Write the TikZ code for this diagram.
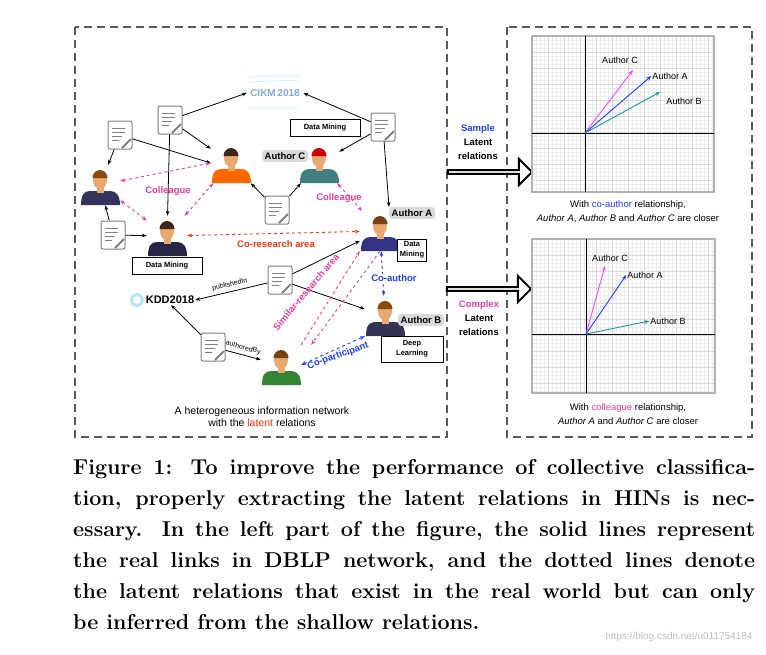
\documentclass[tikz,border=0pt]{standalone}
\usepackage{fontspec}
\newfontfamily\sans{Liberation Sans}
\usetikzlibrary{shapes.arrows,calc,arrows.meta}
\definecolor{pk}{RGB}{236,58,160}
\definecolor{rd}{RGB}{255,50,10}
\definecolor{bl}{RGB}{30,60,255}
\definecolor{tl}{RGB}{30,150,150}
\definecolor{mg}{RGB}{255,70,255}
\definecolor{skin}{RGB}{232,168,110}
\definecolor{hair}{RGB}{60,40,25}
\begin{document}
\begin{tikzpicture}[x=1pt,y=-1pt,font=\sans\fontsize{8}{9}\selectfont]
\tikzset{
 frame/.style={draw=gray!70!black,line width=2pt,dash pattern=on 8pt off 5pt},
 doc/.style={minimum width=24pt,minimum height=28pt,inner sep=0,draw=gray,line width=1pt,rounded corners=2pt,fill=white,
  path picture={
   \draw[gray,line width=.8pt] ([shift={(-8pt,7pt)}]path picture bounding box.center) -- ++(13pt,0)
     ([shift={(-8pt,3pt)}]path picture bounding box.center) -- ++(13pt,0)
     ([shift={(-8pt,-1pt)}]path picture bounding box.center) -- ++(10pt,0)
     ([shift={(-8pt,-5pt)}]path picture bounding box.center) -- ++(7pt,0);
   \draw[gray,line width=2pt] ([shift={(2pt,-13pt)}]path picture bounding box.center) -- ++(9pt,9pt);}},
 person/.style 2 args={minimum width=40pt,minimum height=40pt,inner sep=0,
  path picture={
   \fill[#1] ([shift={(-19pt,-20pt)}]path picture bounding box.center) .. controls +(0,10pt) and +(-6pt,0) .. ++(9pt,14pt) -- ++(20pt,0) .. controls +(6pt,0) and +(0,10pt) .. ++(10pt,-14pt) -- cycle;
   \fill[skin] ([shift={(-3.5pt,-8pt)}]path picture bounding box.center) rectangle ++(7pt,6pt);
   \fill[skin] ([yshift=5pt]path picture bounding box.center) ellipse (7pt and 9pt);
   \fill[#2] ([shift={(-7.5pt,7pt)}]path picture bounding box.center) arc (180:0:7.5pt and 8pt) -- cycle;}},
 tag/.style={fill=gray!30,rounded corners=3pt,font=\sans\bfseries\fontsize{9.5}{10}\selectfont,inner sep=2.5pt},
 box/.style={draw,line width=.6pt,fill=white,font=\sans\bfseries\fontsize{7.5}{10}\selectfont,inner sep=2.5pt,align=center},
 blk/.style={-{Stealth[length=5pt]},line width=.8pt},
 pkd/.style={{Stealth[length=5pt]}-{Stealth[length=5pt]},pk,dashed,line width=.9pt},
 lbl/.style={font=\sans\bfseries\fontsize{9.5}{11}\selectfont},
 grd/.style={draw=gray!60,line width=2pt},
 fine/.style={gray!15,line width=.3pt},
 coarse/.style={gray!30,line width=.4pt},
 big/.style={single arrow,draw,line width=2pt,fill=white,minimum height=84pt,minimum width=26pt,single arrow head extend=6pt,inner sep=0},
}
\useasboundingbox (0,0) rectangle (766,654);
\draw[frame] (75,27) rectangle (447,437);
\draw[frame] (507,27) rectangle (752,437);

% left network
\node[font=\sans\bfseries\fontsize{10}{11}\selectfont,text=cyan!50!blue!50] (cikm) at (275,93) {CIKM\,2018};
\draw[cyan!30,line width=.5pt] (248,76) -- (300,76) (248,82) -- (300,80) (248,108) -- (300,108);
\node[doc] (d1) at (170,120) {};
\node[doc] (d2) at (120,135) {};
\node[doc] (d3) at (383,127) {};
\node[doc] (dm) at (277,210) {};
\node[doc] (dl) at (113,235) {};
\node[doc] (dc) at (280,280) {};
\node[doc] (db) at (213,347) {};
\node[box,minimum width=70pt,minimum height=17pt] (bdm) at (325,128) {Data Mining};
\node[person={orange!80!red}{hair}] (po) at (231,163) {};
\node[person={gray!50!teal}{red!80!black}] (pc) at (319,163) {};
\node[tag] (tc) at (285,156) {Author C};
\node[person={blue!20!black!80}{hair!60!orange}] (pl) at (100,185) {};
\node[person={blue!15!black!85}{hair}] (ps) at (167,236) {};
\node[box,minimum width=70pt,minimum height=17pt] (bs) at (167,266) {Data Mining};
\node[person={blue!40!black!80}{hair!70!orange}] (pa) at (380,231) {};
\node[tag] (ta) at (412,213) {Author A};
\node[box] (ba) at (412,250) {Data\\Mining};
\node[person={blue!15!black!80}{hair!60!orange}] (pb) at (385,316) {};
\node[tag] (tb) at (421,320) {Author B};
\node[box,minimum width=62pt,minimum height=26pt] (bb) at (412,349) {Deep\\Learning};
\node[person={green!40!black!80}{hair!70!orange}] (pg) at (281,365) {};
\fill[cyan!30] (137,300) circle (7pt);
\fill[white] (137,300) circle (4pt);
\node[font=\sans\bfseries\fontsize{11}{12}\selectfont,inner sep=1pt] (kdd) at (166,300) {\hspace*{8pt}KDD2018};

\draw[blk] (d1) -- (cikm.west);
\draw[blk] (d3) -- (cikm.east);
\draw[blk] (d1) -- (po);
\draw[blk] (d1) -- (ps);
\draw[blk] (d2) -- (pl);
\draw[blk] (d2) -- (po.west);
\draw[blk] (d3) -- (pc);
\draw[blk] (d3) -- (ta.north west);
\draw[blk] (dm) -- (po);
\draw[blk] (dm) -- (pc);
\draw[blk] (dl) -- (pl);
\draw[blk] (dl) -- (ps);
\draw[blk] (dc) -- node[above,sloped,font=\sans\fontsize{7}{8}\selectfont]{publishedIn} (kdd.east);
\draw[blk] (dc) -- (pa);
\draw[blk] (dc) -- (pb);
\draw[blk] (db) -- (kdd);
\draw[blk] (db) -- node[above,sloped,pos=.45,font=\sans\fontsize{7}{8}\selectfont]{authoredBy} (pg);

\draw[pkd] (pl) -- (po.west);
\draw[pkd] (pl) -- (ps);
\draw[pkd] (ps) -- (po);
\node[lbl,text=pk] (lc1) at (168,191) {Colleague};
\draw[pkd] (pc) -- (pa);
\node[lbl,text=pk] (lc2) at (339,198) {Colleague};
\draw[{Stealth[length=5pt]}-{Stealth[length=5pt]},rd,dashed,line width=.9pt] (ps) -- (pa);
\node[lbl,text=rd] (lcr) at (276,244) {Co-research area};
\draw[{Stealth[length=5pt]}-{Stealth[length=5pt]},bl,dashed,line width=.9pt] (pa) -- (pb);
\node[lbl,text=bl,fill=white,inner sep=1pt] (lca) at (394,278) {Co-author};
\draw[-{Stealth[length=5pt]},pk,dashed,line width=.9pt] (pg.north east) -- (pa.south west);
\draw[-{Stealth[length=5pt]},pk,dashed,line width=.9pt] (pa.south) -- ([xshift=10pt]pg.north east);
\node[lbl,text=pk,rotate=50] (lsr) at (306,292) {Similar-research area};
\draw[{Stealth[length=5pt]}-{Stealth[length=5pt]},bl,dashed,line width=.9pt] (pg.east) -- (pb.south west);
\node[lbl,text=bl,rotate=20] (lcp) at (338,356) {Co-participant};
\node[font=\sans\fontsize{10.5}{12}\selectfont,align=center] (cap) at (262,417) {A heterogeneous information network\\with the \textcolor{rd}{latent} relations};

% arrows
\node[big] (ar1) at (489,172) {};
\node[big] (ar2) at (488,289) {};
\node[lbl,align=center,font=\sans\bfseries\fontsize{9.5}{14}\selectfont] (t1) at (478,142) {\textcolor{bl}{Sample}\\Latent\\relations};
\node[lbl,align=center,font=\sans\bfseries\fontsize{9.5}{14}\selectfont] (t2) at (479,318) {\textcolor{pk}{Complex}\\Latent\\relations};

% plots
\foreach \x in {532,536,...,714} \draw[fine] (\x,36) -- (\x,192);
\foreach \y in {36,40,...,192} \draw[fine] (532,\y) -- (714,\y);
\foreach \x in {532,548,...,714} \draw[coarse] (\x,36) -- (\x,192);
\foreach \y in {36,52,...,192} \draw[coarse] (532,\y) -- (714,\y);
\draw[grd] (532,36) rectangle (714,192);
\draw[line width=.9pt] (585,36) -- (585,192) (532,133) -- (714,133);
\coordinate (o1) at (585,133);
\node[inner sep=1pt,font=\sans\fontsize{9}{10}\selectfont] (c1) at (620,60) {Author C};
\node[inner sep=1pt,font=\sans\fontsize{9}{10}\selectfont] (a1) at (670,76) {Author A};
\node[inner sep=1pt,font=\sans\fontsize{9}{10}\selectfont] (b1) at (684,101) {Author B};
\draw[-{Stealth[length=5pt]},mg,line width=.9pt] (o1) -- (633,70);
\draw[-{Stealth[length=5pt]},bl,line width=.9pt] (o1) -- (a1.west);
\draw[-{Stealth[length=5pt]},tl,line width=.9pt] (o1) -- (660,92);
\node[align=center,font=\sans\fontsize{9.5}{14}\selectfont] (cp1) at (628,212) {With \textcolor{bl}{co-author} relationship,\\\textit{Author A}, \textit{Author B} and \textit{Author C} are closer};

\foreach \x in {532,536,...,715} \draw[fine] (\x,239) -- (\x,393);
\foreach \y in {239,243,...,393} \draw[fine] (532,\y) -- (715,\y);
\foreach \x in {532,548,...,715} \draw[coarse] (\x,239) -- (\x,393);
\foreach \y in {239,255,...,393} \draw[coarse] (532,\y) -- (715,\y);
\draw[grd] (532,239) rectangle (715,393);
\draw[line width=.9pt] (586,239) -- (586,393) (532,334) -- (715,334);
\coordinate (o2) at (586,334);
\node[inner sep=1pt,font=\sans\fontsize{9}{10}\selectfont] (c2) at (610,258) {Author C};
\node[inner sep=1pt,font=\sans\fontsize{9}{10}\selectfont] (a2) at (645,275) {Author A};
\node[inner sep=1pt,font=\sans\fontsize{9}{10}\selectfont] (b2) at (668,321) {Author B};
\draw[-{Stealth[length=5pt]},mg,line width=.9pt] (o2) -- (605,266);
\draw[-{Stealth[length=5pt]},bl,line width=.9pt] (o2) -- (a2.west);
\draw[-{Stealth[length=5pt]},tl,line width=.9pt] (o2) -- (b2.west);
\node[align=center,font=\sans\fontsize{9.5}{14}\selectfont] (cp2) at (628,414) {With \textcolor{pk}{colleague} relationship,\\\textit{Author A} and \textit{Author C} are closer};

% caption
\begin{scope}[every node/.style={anchor=base west,inner sep=0,font=\bfseries\fontsize{21.5}{24}\selectfont}]
\node (f1) at (73,474) {\makebox[682pt][s]{Figure 1: To improve the performance of collective classifica-}};
\node (f2) at (73,505) {\makebox[682pt][s]{tion, properly extracting the latent relations in HINs is nec-}};
\node (f3) at (73,536) {\makebox[682pt][s]{essary. In the left part of the figure, the solid lines represent}};
\node (f4) at (73,567) {\makebox[682pt][s]{the real links in DBLP network, and the dotted lines denote}};
\node (f5) at (73,598) {\makebox[682pt][s]{the latent relations that exist in the real world but can only}};
\node (f6) at (73,629) {be inferred from the shallow relations.};
\end{scope}
\node[text=gray!50,font=\sans\fontsize{10}{11}\selectfont,anchor=base east] (wm) at (756,639) {https://blog.csdn.net/u011754184};
\end{tikzpicture}
\end{document}
